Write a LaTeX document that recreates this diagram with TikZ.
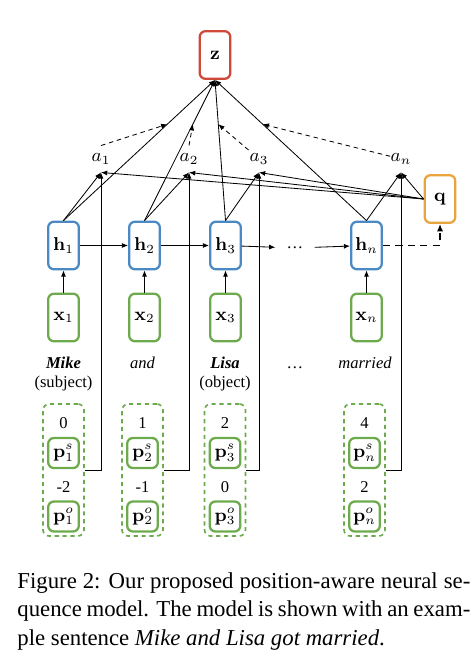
\documentclass[tikz,border=0pt]{standalone}
\usepackage[no-math]{fontspec}
\setmainfont{Liberation Serif}
\usetikzlibrary{arrows.meta,calc}
\definecolor{zred}{RGB}{208,72,58}
\definecolor{hblue}{RGB}{74,138,196}
\definecolor{xgreen}{RGB}{108,170,76}
\definecolor{qorange}{RGB}{234,164,62}
\begin{document}
\begin{tikzpicture}[x=0.4831pt,y=-0.4831pt,
  box/.style={draw,rounded corners=2.8pt,line width=1.1pt,minimum width=14.8pt,minimum height=23pt,inner sep=0pt,font=\fontsize{9}{10}\selectfont},
  pbox/.style={draw=xgreen,rounded corners=2.8pt,line width=1.1pt,minimum width=14.8pt,minimum height=14.5pt,inner sep=0pt,font=\fontsize{9}{10}\selectfont},
  dbox/.style={draw=xgreen,dashed,dash pattern=on 2pt off 1.8pt,rounded corners=3pt,line width=0.8pt,minimum width=19.8pt,minimum height=63.8pt,inner sep=0pt},
  alab/.style={inner sep=0pt,minimum width=9.7pt,minimum height=12.6pt,font=\fontsize{9}{10}\selectfont},
  word/.style={inner sep=0pt,anchor=base,font=\fontsize{8}{9}\selectfont},
  num/.style={inner sep=0pt,font=\fontsize{8}{9}\selectfont},
  dotsnode/.style={inner ysep=1pt,inner xsep=5.3pt,font=\fontsize{8}{9}\selectfont},
  arr/.style={-{Latex[length=3pt,width=2.4pt]},line width=0.4pt},
  darr/.style={-{Latex[length=3pt,width=2.4pt]},line width=0.4pt,dash pattern=on 2.2pt off 1.8pt},
  qarr/.style={-{Latex[length=3.6pt,width=3pt]},line width=0.75pt,dash pattern=on 3.5pt off 2.5pt},
  captext/.style={inner sep=0pt,anchor=base west,font=\fontsize{11}{13.6}\selectfont}
]
\useasboundingbox (0,0) rectangle (474,655);

% top nodes
\node[box,draw=zred] (z) at (215,55) {$\mathbf{z}$};
\node[box,draw=qorange] (q) at (440,199) {$\mathbf{q}$};

% attention labels
\node[alab] (a1) at (101,159) {$a_1$};
\node[alab] (a2) at (189,159) {$a_2$};
\node[alab] (a3) at (259,159) {$a_3$};
\node[alab] (an) at (401,159) {$a_n$};

% hidden states
\node[box,draw=hblue] (h1) at (63.5,245.5) {$\mathbf{h}_1$};
\node[box,draw=hblue] (h2) at (144.5,245.5) {$\mathbf{h}_2$};
\node[box,draw=hblue] (h3) at (225.5,245.5) {$\mathbf{h}_3$};
\node[dotsnode] (hd) at (295,248) {\ldots};
\node[box,draw=hblue] (hn) at (366.5,245.5) {$\mathbf{h}_n$};

% inputs
\node[box,draw=xgreen] (x1) at (63.5,317.5) {$\mathbf{x}_1$};
\node[box,draw=xgreen] (x2) at (144.5,317.5) {$\mathbf{x}_2$};
\node[box,draw=xgreen] (x3) at (225.5,317.5) {$\mathbf{x}_3$};
\node[box,draw=xgreen] (xn) at (366.5,317.5) {$\mathbf{x}_n$};

% words
\node[word] (w1) at (63.5,368) {\textbf{\textit{Mike}}};
\node[word] (w1b) at (63.5,387) {(subject)};
\node[word] (w2) at (142.5,368) {\textit{and}};
\node[word] (w3) at (225,368) {\textbf{\textit{Lisa}}};
\node[word] (w3b) at (225,387) {(object)};
\node[word] (wd) at (295,368) {\ldots};
\node[word] (wn) at (365,368) {\textit{married}};

% position groups
\node[dbox] (pb1) at (63.5,470) {};
\node[dbox] (pb2) at (142.5,470) {};
\node[dbox] (pb3) at (225,470) {};
\node[dbox] (pbn) at (364.5,470) {};

\node[num] (s1) at (63.5,423) {0};
\node[num] (s2) at (142.5,423) {1};
\node[num] (s3) at (225,423) {2};
\node[num] (sn) at (364.5,423) {4};
\node[pbox] (ps1) at (63.5,453) {$\mathbf{p}^s_1$};
\node[pbox] (ps2) at (142.5,453) {$\mathbf{p}^s_2$};
\node[pbox] (ps3) at (225,453) {$\mathbf{p}^s_3$};
\node[pbox] (psn) at (364.5,453) {$\mathbf{p}^s_n$};
\node[num] (o1) at (63.5,487) {-2};
\node[num] (o2) at (142.5,487) {-1};
\node[num] (o3) at (225,487) {0};
\node[num] (on) at (364.5,487) {2};
\node[pbox] (po1) at (63.5,516.5) {$\mathbf{p}^o_1$};
\node[pbox] (po2) at (142.5,516.5) {$\mathbf{p}^o_2$};
\node[pbox] (po3) at (225,516.5) {$\mathbf{p}^o_3$};
\node[pbox] (pon) at (364.5,516.5) {$\mathbf{p}^o_n$};

% x -> h
\draw[arr] (x1) -- (h1);
\draw[arr] (x2) -- (h2);
\draw[arr] (x3) -- (h3);
\draw[arr] (xn) -- (hn);

% recurrence
\draw[arr] (h1) -- (h2);
\draw[arr] (h2) -- (h3);
\draw[arr] (h3) -- (hd);
\draw[arr] (hd) -- (hn);
\draw[qarr] (hn.east) -| (q.south);

% h -> z
\draw[arr] (h1.north) -- (z.south);
\draw[arr] (h2.north) -- (z.south);
\draw[arr] (h3.north) -- (z.south);
\draw[arr] (hn.north) -- (z.south);

% h -> a
\draw[arr] (h1.north) -- (a1.south);
\draw[arr] (h2.north) -- (a2.south);
\draw[arr] (h3.north) -- (a3.south);
\draw[arr] (hn.north) -- (an.south);

% q -> a
\draw[arr] (q.west) -- (a1.south);
\draw[arr] (q.west) -- (a2.south);
\draw[arr] (q.west) -- (a3.south);
\draw[arr] (q.west) -- (an.south);

% positions -> a
\draw[arr] (pb1.east) -| (a1.south);
\draw[arr] (pb2.east) -| (a2.south);
\draw[arr] (pb3.east) -| (a3.south);
\draw[arr] (pbn.east) -| (an.south);

% attention weights
\draw[darr] (a1.north) -- ($(h1.north)!0.685!(z.south)$);
\draw[darr] (a2.north) -- ($(h2.north)!0.685!(z.south)$);
\draw[darr] (a3) -- ($(h3.north)!0.685!(z.south)$);
\draw[darr] (an) -- ($(hn.north)!0.685!(z.south)$);

% caption
\node[captext] (c1) at (17,588) {\makebox[218.8pt][s]{Figure 2: Our proposed position-aware neural se-}};
\node[captext] (c2) at (17,616.5) {\makebox[218.8pt][s]{quence model. The model is shown with an exam-}};
\node[captext] (c3) at (17,645) {ple sentence \textit{Mike and Lisa got married}.};
\end{tikzpicture}
\end{document}
